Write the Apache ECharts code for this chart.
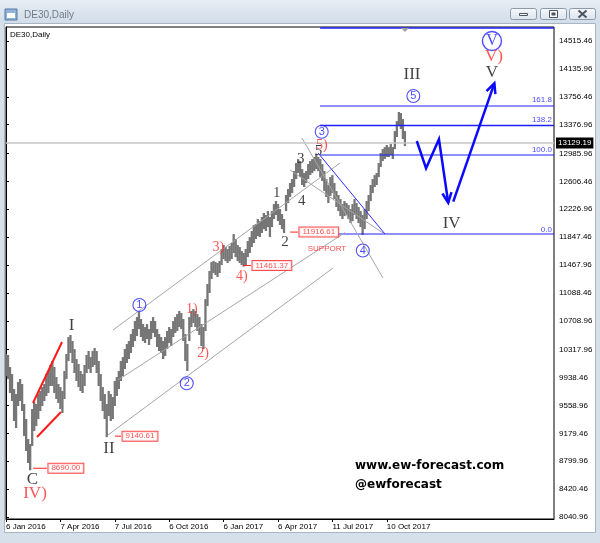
<!DOCTYPE html>
<html><head><meta charset="utf-8">
<script src="https://cdn.jsdelivr.net/npm/echarts@6/dist/echarts.min.js"></script>
<style>html,body{margin:0;padding:0;background:#d7e1eb}#c{width:600px;height:543px}</style>
</head><body><div id="c"></div>
<script>
// ---------- data ----------
const dateLabels = ['6 Jan 2016','7 Apr 2016','7 Jul 2016','6 Oct 2016','6 Jan 2017','6 Apr 2017','11 Jul 2017','10 Oct 2017'];
const yTicks = [8040.96,8420.46,8799.96,9179.46,9558.96,9938.46,10317.96,10708.96,11088.46,11467.96,11847.46,12226.96,12606.46,12985.96,13376.96,13756.46,14135.96,14515.46];
const barHigh = [
10245,10231,10067,9972,9768,9700,9863,9904,9836,9564,
9360,9088,9020,9496,9591,9564,9700,9741,9795,9836,
9972,10013,10095,10149,10067,9931,9836,9795,9741,10013,
10244,10475,10503,10421,10312,10176,10108,10013,
9972,10095,10231,10285,10203,10285,10326,10285,10149,
9972,9795,9700,9564,9741,9700,9659,9877,9931,10013,
10149,10203,10312,10380,10421,10516,10584,10693,10747,10815,
10720,10652,10611,10652,10584,10693,10747,10693,10584,10516,
10475,10421,10475,10557,
10611,10584,10693,10747,10788,10829,10802,10720,10516,10380,
10747,10829,10856,10829,10788,10747,10652,10611,10992,11196,
11373,11495,11509,11495,11482,11509,11672,11727,11699,11672,
11713,11754,11876,11808,11727,11699,11645,11618,11672,11781,
11835,11917,11998,12012,12080,12053,12107,12162,12134,12189,
12107,12189,12284,12325,12284,12216,12148,12080,12407,12488,
12570,12624,12733,12842,12896,12869,12760,12706,12733,
12828,12869,12896,12924,12965,12924,12896,12828,12733,12624,
12543,12652,12678,12570,12461,12407,12352,12284,12325,12298,
12271,12216,12284,12352,12298,12243,12189,12134,12216,12325,
12407,12543,12624,12678,12706,
12842,12978,13032,13059,13087,13059,13100,13059,13277,13413,
13536,13522,13440,13277];
const barLow = [
9972,9931,9741,9632,9360,9265,9564,9632,9496,9156,
8952,8789,8690,9020,9224,9292,9387,9496,9564,9632,
9700,9741,9836,9836,9741,9659,9605,9523,9469,9659,
9931,10176,10285,10149,10013,9904,9822,9768,
9741,9836,10013,10067,10013,10095,10122,10013,9836,
9632,9496,9387,9141,9428,9360,9387,9564,9700,9795,
9904,9972,10067,10149,10203,10285,10367,10448,10516,10611,
10503,10448,10421,10475,10394,10475,10557,10503,10367,10312,
10285,10203,10244,10339,
10421,10380,10503,10557,10584,10638,10611,10448,10176,10040,
10448,10638,10693,10638,10584,10530,10380,10339,10584,10924,
11101,11291,11373,11346,11319,11373,11482,11563,11536,11509,
11536,11563,11645,11590,11536,11509,11482,11461,11475,11590,
11645,11727,11781,11835,11876,11862,11917,11971,11944,11998,
11862,11998,12107,12162,12080,12026,11971,11917,12216,12325,
12407,12461,12543,12652,12733,12678,12570,12543,12597,
12652,12706,12733,12760,12787,12760,12678,12624,12488,12407,
12325,12420,12461,12379,12271,12216,12148,12107,12148,12162,
12107,12053,12080,12162,12107,12053,11998,11890,11971,12107,
12216,12352,12461,12543,12570,
12678,12815,12896,12924,12951,12951,12978,12924,13059,13223,
13386,13332,13196,13100];
const lastPrice = 13129.19;

// annotations, in (bar slot, price)
const fibLines = [
  {label:'',      price:14692.2, from:155.9, width:1.6},
  {label:'161.8', price:13631.2, from:155.9, labelPrice:13712.9, width:1},
  {label:'138.2', price:13366.0, from:155.9, labelPrice:13447.7, width:1.4},
  {label:'100.0', price:12964.8, from:155.9, labelPrice:13035.6, width:1},
  {label:'0.0',   price:11890.3, from:164.8, labelPrice:11944.5, width:1}
];
const channelLines = [
  [[53.1,10584.5],[165.8,12856.0]],
  [[55.6,9904.4],[168.3,11909.9]],
  [[50.6,9156.3],[162.3,11427.8]],
  [[146.9,13196.0],[187.1,11291.8]],
  [[141.0,12760.8],[187.1,11903.9]]
];
const redLines = [
  [[13.4,9591.6],[27.8,10421.3]],
  [[15.4,9129.1],[27.3,9469.1]]
];
const blueTrend = [[[154.9,12992.0],[188.1,11890.3]]];
const forecastPaths = [
  [[203.9,13155.2],[208.5,12784.0],[214.9,13178.4],[219.5,12316.0]],
  [[222.0,12329.6],[242.4,13940.0]],
  [[221.1,12458.8],[219.5,12316.0],[216.6,12441.1]],
  [[238.5,13832.6],[242.4,13940.0],[242.9,13791.8]]
];
const majorWaves = [['I',32.6,10638.9],['II',51.1,8965.9],['III',201.5,14053.0],['IV',221.2,12026.3],['V',241.2,14080.2],['C',13.1,8544.2]];
const redMajor = [['IV)',14.4,8353.8],['V)',242.2,14297.8]];
const redMinor = [['1)',92.2,10866.1],['2)',97.8,10271.6],['3)',105.4,11709.3],['4)',117.0,11319.0],['5)',156.8,13100.9]];
const minorWaves = [['1',134.4,12448.0],['2',138.5,11785.5],['3',146.3,12910.4],['4',146.8,12339.1],['5',155.1,13019.2]];
const circledWaves = [['1',66.2,10924.5],['2',89.7,9859.5],['3',156.7,13281.7],['4',177.1,11665.8],['5',202.2,13767.3]];
const circledMajor = [['V',241.2,14515.5]];
const priceTags = [['8690.00',20.8,8704],['9140.61',57.6,9140.61],['11461.37',122.1,11461.37],['11916.61',145.4,11916.61]];
const priceTagDashes = [[13.4,20.3,8704],[54.1,57.1,9140.61],[117.6,121.6,11461.37],[141.0,144.9,11916.61]];
const supportText = [['SUPPORT',159.3,11686.3]];

// ---------- chart ----------
const LABEL_STEP = 27, X_MAX = 272, FIB_END = 272;
const dateTicks = dateLabels.map((_, k) => k * LABEL_STEP);
const SANS = 'Liberation Sans, Arial, sans-serif';
const SERIF = 'Liberation Serif, Times New Roman, serif';

function textSeries(items, labelStyle, extra) {
  return Object.assign({
    type:'scatter', silent:true, z:8, symbolSize:1, itemStyle:{color:'rgba(0,0,0,0)'},
    data: items.map(t => ({name:t[0], value:[t[1], t[2]]})),
    label: Object.assign({show:true, position:'inside', formatter:'{b}'}, labelStyle)
  }, extra || {});
}
function lineSeries(paths, style, extra) {
  return Object.assign({
    type:'lines', coordinateSystem:'cartesian2d', polyline:true, silent:true, z:4,
    data: paths.map(p => ({coords:p})),
    lineStyle: Object.assign({opacity:1}, style)
  }, extra || {});
}

const chart = echarts.init(document.getElementById('c'), null, {renderer:'canvas'});
const btnFill = () => new echarts.graphic.LinearGradient(0,0,0,1,[{offset:0,color:'#f7f9fc'},{offset:1,color:'#dae3ed'}]);
const option = {
  animation:false,
  backgroundColor:'#d5e0eb',
  grid:{left:6, right:46, top:27, bottom:24, show:true, backgroundColor:'#fff', borderColor:'#000', borderWidth:1},
  xAxis:{type:'value', min:0, max:X_MAX, splitLine:{show:false},
    axisLine:{lineStyle:{color:'#000'}},
    axisTick:{customValues:dateTicks, length:3, lineStyle:{color:'#000'}},
    axisLabel:{customValues:dateTicks, formatter:v => dateLabels[Math.round(v / LABEL_STEP)] || '',
      align:'left', fontSize:8, color:'#000', margin:4, fontFamily:SANS}},
  yAxis:{type:'value', position:'right', min:8013.76, max:14705.9, splitLine:{show:false},
    axisLine:{show:true, lineStyle:{color:'#000'}},
    axisTick:{show:true, customValues:yTicks, length:3, lineStyle:{color:'#000'}},
    axisLabel:{customValues:yTicks, formatter:v => v.toFixed(2), fontSize:8, color:'#000', margin:5, fontFamily:SANS}},
  graphic:[
    {type:'rect', z:-10, shape:{x:0,y:0,width:600,height:23}, style:{fill:new echarts.graphic.LinearGradient(0,0,0,1,[{offset:0,color:'#e7eef6'},{offset:1,color:'#d1dde9'}])}},
    {type:'rect', z:-9, shape:{x:4.5,y:23.5,width:591,height:509}, style:{fill:'#fff', stroke:'#a9b5c2', lineWidth:1}},
    {type:'rect', z:5, shape:{x:5,y:9,width:12,height:11}, style:{fill:'#8fb3d9', stroke:'#55789f', lineWidth:1}},
    {type:'rect', z:6, shape:{x:7,y:13,width:8,height:5}, style:{fill:'#fff'}},
    {type:'text', z:5, x:24, y:15, style:{text:'DE30,Daily', fill:'#6f7b88', font:'10px Liberation Sans', verticalAlign:'middle'}},
    {type:'rect', z:5, shape:{x:510.5,y:8.5,width:26,height:11,r:2}, style:{fill:btnFill(), stroke:'#8c99a8'}},
    {type:'rect', z:5, shape:{x:540.5,y:8.5,width:26,height:11,r:2}, style:{fill:btnFill(), stroke:'#8c99a8'}},
    {type:'rect', z:5, shape:{x:569.5,y:8.5,width:26,height:11,r:2}, style:{fill:btnFill(), stroke:'#8c99a8'}},
    {type:'rect', z:6, shape:{x:519.5,y:13.5,width:8,height:2}, style:{fill:'#fff', stroke:'#4a5564'}},
    {type:'rect', z:6, shape:{x:549.5,y:10.5,width:8,height:7}, style:{fill:'#fff', stroke:'#4a5564'}},
    {type:'rect', z:6, shape:{x:551.5,y:12.5,width:4,height:3}, style:{fill:'#4a5564'}},
    {type:'line', z:6, shape:{x1:578.5,y1:10.5,x2:586.5,y2:17.5}, style:{stroke:'#4a5564', lineWidth:2}},
    {type:'line', z:6, shape:{x1:586.5,y1:10.5,x2:578.5,y2:17.5}, style:{stroke:'#4a5564', lineWidth:2}},
    {type:'text', z:20, x:10, y:35, style:{text:'DE30,Daily', fill:'#000', font:'8px Liberation Sans', verticalAlign:'middle'}},
    {type:'polygon', z:20, shape:{points:[[401,28],[409,28],[405,32]]}, style:{fill:'#a0a0a0'}},
    {type:'text', z:20, x:355, y:466, style:{text:'www.ew-forecast.com', fill:'#000', font:'bold 12px DejaVu Sans', verticalAlign:'middle'}},
    {type:'text', z:20, x:355, y:485, style:{text:'@ewforecast', fill:'#000', font:'bold 12px DejaVu Sans', verticalAlign:'middle'}}
  ],
  series:[
    {type:'custom', name:'DE30', z:3, silent:true,
      data: barLow.map((lo, i) => [i, lo, barHigh[i]]),
      encode:{x:0, y:[1,2]},
      renderItem:(params, api) => {
        const p1 = api.coord([api.value(0), api.value(1)]);
        const p2 = api.coord([api.value(0), api.value(2)]);
        return {type:'line', shape:{x1:p1[0], y1:p1[1]+1, x2:p2[0], y2:p2[1]-1}, style:{stroke:'#767676', lineWidth:2.3}};
      }},
    ...fibLines.map(f => lineSeries([[[f.from, f.price],[FIB_END, f.price]]], {color:'#2020ff', width:f.width})),
    lineSeries(channelLines, {color:'#a6a6a6', width:1}),
    lineSeries(redLines, {color:'#ff1a1a', width:2}),
    lineSeries(blueTrend, {color:'#2b2bff', width:1}),
    lineSeries(forecastPaths, {color:'#0a0aff', width:2.5}, {z:6}),
    lineSeries(priceTagDashes.map(d => [[d[0], d[2]],[d[1], d[2]]]), {color:'#ff2020', width:1}),
    textSeries(fibLines.filter(f => f.label).map(f => [f.label, FIB_END - 0.3, f.labelPrice]),
      {position:'left', distance:1, color:'#1515ff', fontSize:8, fontFamily:SANS},
      {markLine:{silent:true, symbol:'none', data:[{yAxis:lastPrice}],
        lineStyle:{color:'#c6c6c6', width:1.5, type:'solid'},
        label:{position:'end', distance:2, formatter:lastPrice.toFixed(2), color:'#fff', backgroundColor:'#000',
          fontSize:8, fontFamily:SANS, padding:[2,2,1,2]}}}),
    textSeries(majorWaves, {color:'#111', fontSize:17, fontFamily:SERIF}),
    textSeries(redMajor, {color:'#ff2a2a', fontSize:17, fontFamily:SERIF}),
    textSeries(redMinor, {color:'#ff2a2a', fontSize:14, fontFamily:SERIF}),
    textSeries(minorWaves, {color:'#111', fontSize:15, fontFamily:SERIF}),
    textSeries(circledWaves, {color:'#2222ff', fontSize:11, fontFamily:SANS},
      {symbol:'circle', symbolSize:13, itemStyle:{color:'rgba(255,255,255,0)', borderColor:'#2222ff', borderWidth:1.1}}),
    textSeries(circledMajor, {color:'#2222ff', fontSize:16, fontFamily:SERIF},
      {symbol:'circle', symbolSize:19, itemStyle:{color:'rgba(255,255,255,0)', borderColor:'#2222ff', borderWidth:1.4}}),
    textSeries(priceTags, {position:'right', distance:0, color:'#ff2020', fontSize:8, fontFamily:SANS,
      backgroundColor:'#fff', borderColor:'#ff2020', borderWidth:1, padding:[1,3,0,3]}),
    textSeries(supportText, {color:'#ff2020', fontSize:8, fontFamily:SANS})
  ]
};
chart.setOption(option);
</script>
</body></html>
